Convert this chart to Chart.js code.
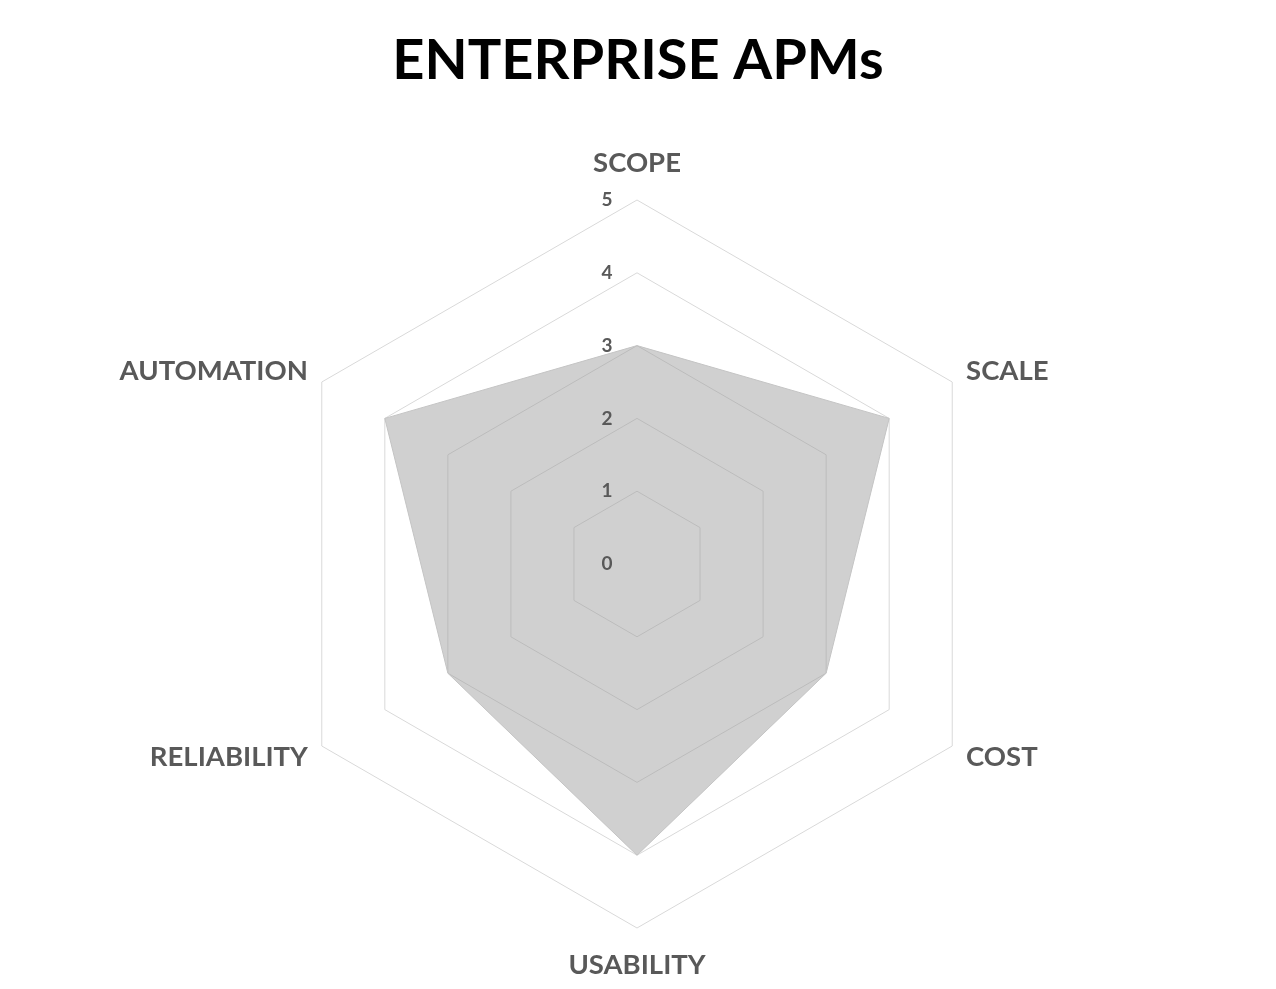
<!DOCTYPE html>
<html>
<head>
<meta charset="utf-8">
<script src="https://cdn.jsdelivr.net/npm/chart.js@4"></script>
<style>
  html, body { margin: 0; padding: 0; background: #fff; }
  #wrap { width: 1276px; height: 989px; position: relative; }
</style>
</head>
<body>
<div id="wrap"><canvas id="radarChart"></canvas></div>
<script>
// chart data
const categories = ["SCOPE", "SCALE", "COST", "USABILITY", "RELIABILITY", "AUTOMATION"];
const scores = [3, 4, 3, 4, 3, 4];
const tickValues = [0, 1, 2, 3, 4, 5];

// Excel-style value labels sitting just left of the vertical axis
const tickLabelPlugin = {
  id: "tickLabels",
  afterDatasetsDraw(chart) {
    const r = chart.scales.r;
    const ctx = chart.ctx;
    ctx.save();
    ctx.font = "bold 19px Lato";
    ctx.fillStyle = "#595959";
    ctx.textAlign = "center";
    ctx.textBaseline = "middle";
    tickValues.forEach(function (v) {
      const d = r.getDistanceFromCenterForValue(v);
      ctx.fillText(String(v), r.xCenter - 30, r.yCenter - d);
    });
    ctx.restore();
  }
};

new Chart(document.getElementById("radarChart"), {
  type: "radar",
  data: {
    labels: categories,
    datasets: [{
      data: scores,
      backgroundColor: "rgba(155,155,155,0.47)",
      borderColor: "#c4c4c4",
      borderWidth: 1,
      pointRadius: 0,
      pointHoverRadius: 0
    }]
  },
  options: {
    responsive: true,
    maintainAspectRatio: false,
    animation: false,
    layout: { padding: 0 },
    plugins: {
      legend: { display: false },
      tooltip: { enabled: false },
      title: {
        display: true,
        text: "ENTERPRISE APMs",
        color: "#000",
        font: { family: "Lato", size: 56, weight: "bold", lineHeight: 1.2 },
        padding: { top: 27, bottom: 10 }
      }
    },
    scales: {
      r: {
        min: 0,
        max: 5,
        ticks: { display: false, stepSize: 1 },
        grid: { color: "#d9d9d9", lineWidth: 1 },
        angleLines: { display: false },
        pointLabels: {
          color: "#595959",
          font: { family: "Lato", size: 27.5, weight: "bold", lineHeight: 0.2 },
          padding: function (ctx) {
            return (ctx.index === 0 || ctx.index === 3) ? 34 : 16;
          }
        },
        // pin the plot to where the reference draws it
        afterSetDimensions: function (scale) {
          scale.xCenter = 637;
          scale.yCenter = 564;
          scale.drawingArea = 364;
        }
      }
    }
  },
  plugins: [tickLabelPlugin]
});
</script>
</body>
</html>
